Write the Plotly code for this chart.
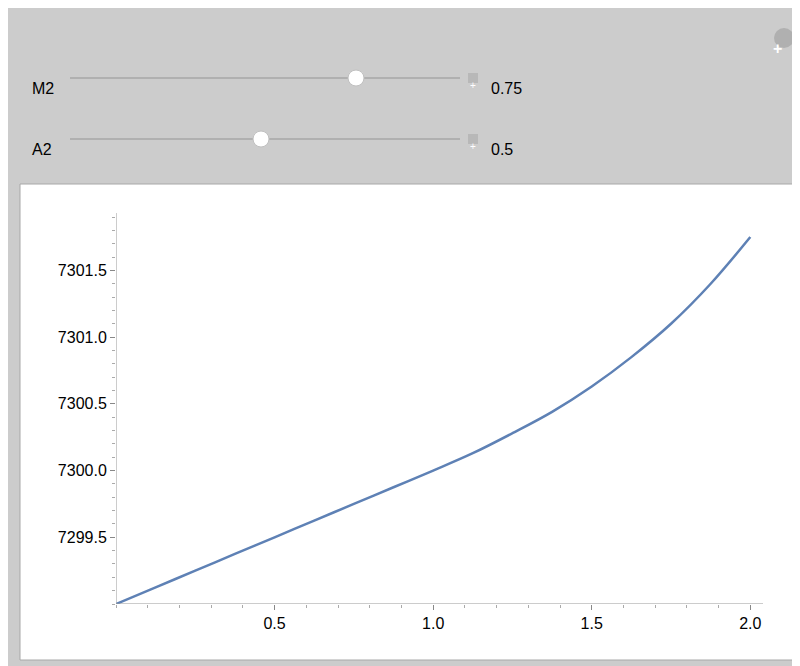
import plotly.graph_objects as go

x_vals = [0, 0.125, 0.25, 0.375, 0.5, 0.625, 0.75, 0.875, 1.0, 1.125, 1.25, 1.375, 1.5, 1.625, 1.75, 1.875, 2.0]
y_vals = [7299.0, 7299.125, 7299.25, 7299.375, 7299.5, 7299.625, 7299.75, 7299.875, 7300.0,
          7300.13, 7300.28, 7300.44, 7300.63, 7300.85, 7301.1, 7301.4, 7301.75]
x_ticks = [0.5, 1.0, 1.5, 2.0]
x_labels = ["0.5", "1.0", "1.5", "2.0"]
y_ticks = [7299.5, 7300.0, 7300.5, 7301.0, 7301.5]
y_labels = ["7299.5", "7300.0", "7300.5", "7301.0", "7301.5"]
sliders = [("M2", "0.75", 348, 70), ("A2", "0.5", 253, 131)]

W, H = 800, 666
L, R, T, B = 108, 45, 205, 70
PW, PH = W - L - R, H - T - B
px = lambda v: (v - L) / PW
py = lambda v: (H - B - v) / PH

fig = go.Figure(go.Scatter(x=x_vals, y=y_vals, mode="lines", line=dict(color="#5e81b5", width=2.5, shape="spline"),
                           hoverinfo="skip"))

shapes = [dict(type="rect", xref="paper", yref="paper", x0=px(12), x1=px(788), y0=py(652), y1=py(176),
               fillcolor="white", line=dict(color="#a8a8a8", width=1), layer="below")]
ann = []
for name, txt, kx, yy in sliders:
    shapes.append(dict(type="line", xref="paper", yref="paper", x0=px(62), x1=px(452), y0=py(yy), y1=py(yy),
                       line=dict(color="#b0b0b0", width=2)))
    shapes.append(dict(type="circle", xref="paper", yref="paper", x0=px(kx - 8), x1=px(kx + 8), y0=py(yy + 8), y1=py(yy - 8),
                       fillcolor="white", line=dict(color="#c0c0c0", width=1)))
    shapes.append(dict(type="rect", xref="paper", yref="paper", x0=px(460), x1=px(470), y0=py(yy + 5), y1=py(yy - 5),
                       fillcolor="#b8b8b8", line=dict(width=0)))
    ann.append(dict(x=px(465), y=py(yy), xref="paper", yref="paper", text="+", showarrow=False,
                    font=dict(color="white", size=10, family="Liberation Sans")))
    ann.append(dict(x=px(22), y=py(yy), xref="paper", yref="paper", text=name, showarrow=False, xanchor="left",
                    font=dict(color="black", size=16, family="Liberation Sans")))
    ann.append(dict(x=px(481), y=py(yy), xref="paper", yref="paper", text=txt, showarrow=False, xanchor="left",
                    font=dict(color="black", size=16, family="Liberation Sans")))
shapes.append(dict(type="circle", xref="paper", yref="paper", x0=px(766), x1=px(786), y0=py(40), y1=py(20),
                   fillcolor="#b0b0b0", line=dict(width=0)))
ann.append(dict(x=px(776), y=py(30), xref="paper", yref="paper", text="<b>+</b>", showarrow=False,
                font=dict(color="white", size=16, family="Liberation Sans")))

fig.update_layout(
    width=W, height=H, margin=dict(l=L, r=R, t=T, b=B),
    paper_bgcolor="#cccccc", plot_bgcolor="white", showlegend=False,
    shapes=shapes, annotations=ann,
    font=dict(family="Liberation Sans", size=16, color="black"),
    xaxis=dict(range=[0, 2.04], tickvals=x_ticks, ticktext=x_labels, showgrid=False, zeroline=False,
               showline=False, ticks="outside", ticklen=5, tickcolor="#888",
               minor=dict(dtick=0.1, ticks="outside", ticklen=3, tickcolor="#aaa")),
    yaxis=dict(range=[7299.0, 7301.93], tickvals=y_ticks, ticktext=y_labels, showgrid=False, zeroline=False,
               showline=False, ticks="outside", ticklen=5, tickcolor="#888",
               minor=dict(dtick=0.1, ticks="outside", ticklen=3, tickcolor="#aaa")),
)
fig.add_shape(type="line", xref="x", yref="paper", x0=0, x1=0, y0=0, y1=1, line=dict(color="#999", width=1))
fig.add_shape(type="line", xref="paper", yref="y", x0=0, x1=1, y0=7299.0, y1=7299.0, line=dict(color="#999", width=1))
fig.write_html("out.html")
